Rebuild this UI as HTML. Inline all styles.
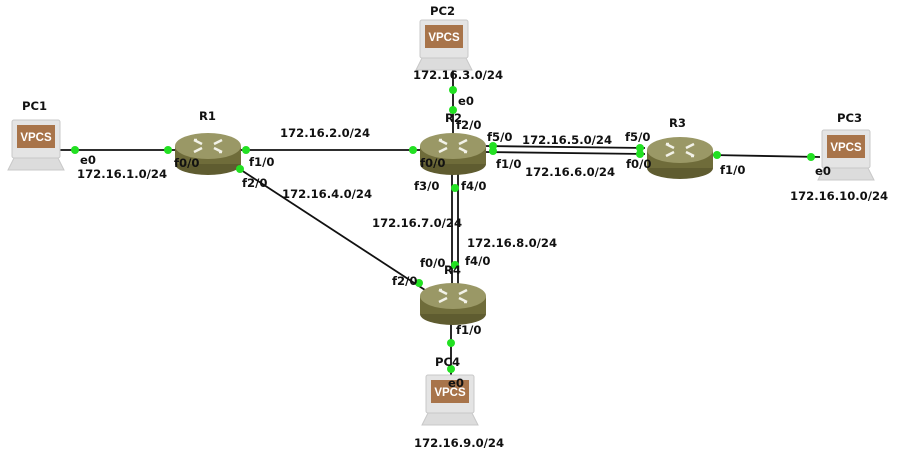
<!DOCTYPE html>
<html><head><meta charset="utf-8"><style>
html,body{margin:0;padding:0;background:#fff}
svg text{font-family:"DejaVu Sans","Liberation Sans",sans-serif;font-weight:bold;font-size:11.6px;fill:#111}
</style></head><body>
<svg width="898" height="454" viewBox="0 0 898 454" xmlns="http://www.w3.org/2000/svg">
<defs>
<g id="router">
 <ellipse cx="0" cy="11" rx="33" ry="11" fill="#5f5c30"/>
 <rect x="-33" y="-7" width="66" height="18" fill="#6f6c3a"/>
 <ellipse cx="0" cy="-7" rx="33" ry="13" fill="#9a9866"/>
 <path d="M-14,-13 l8,4 M-14,-13 l3,0 M14,-13 l-8,4 M-14,-1 l8,-4 M14,-1 l-8,-4 M14,-1 l-3,0" stroke="#f2f2e8" stroke-width="2.5" fill="none"/>
</g>
<g id="pc">
 <rect x="0" y="0" width="48" height="38" rx="2" fill="#e4e4e4" stroke="#c8c8c8"/>
 <rect x="5" y="5" width="38" height="23" fill="#a8744a"/>
 <text x="24" y="21" text-anchor="middle" style="fill:#fff;font-size:11.5px;font-family:'Liberation Sans',sans-serif">VPCS</text>
 <path d="M-4,50 L52,50 L46,38 L2,38 Z" fill="#dcdcdc" stroke="#c8c8c8"/>
</g>
</defs>
<g stroke="#111" stroke-width="1.8" fill="none">
 <line x1="60" y1="150" x2="180" y2="150"/>
 <line x1="240" y1="150" x2="420" y2="150"/>
 <line x1="238" y1="168" x2="425" y2="290"/>
 <line x1="453" y1="62" x2="453" y2="135"/>
 <line x1="485" y1="146" x2="645" y2="148"/>
 <line x1="485" y1="152" x2="645" y2="154"/>
 <line x1="712" y1="155" x2="820" y2="157"/>
 <line x1="452" y1="165" x2="452" y2="288"/>
 <line x1="458" y1="165" x2="458" y2="288"/>
 <line x1="451" y1="320" x2="451" y2="378"/>
</g>
<use href="#router" x="208" y="153"/>
<use href="#router" x="453" y="153"/>
<use href="#router" x="680" y="157"/>
<use href="#router" x="453" y="303"/>
<use href="#pc" x="12" y="120"/>
<use href="#pc" x="420" y="20"/>
<use href="#pc" x="822" y="130"/>
<use href="#pc" x="426" y="375"/>
<g fill="#22e022">
 <circle cx="75" cy="150" r="4"/><circle cx="168" cy="150" r="4"/><circle cx="246" cy="150" r="4"/><circle cx="240" cy="169" r="4"/>
 <circle cx="413" cy="150" r="4"/><circle cx="453" cy="90" r="4"/><circle cx="453" cy="110" r="4"/>
 <circle cx="493" cy="146" r="4"/><circle cx="493" cy="151" r="4"/><circle cx="640" cy="148" r="4"/><circle cx="640" cy="154" r="4"/>
 <circle cx="717" cy="155" r="4"/><circle cx="811" cy="157" r="4"/>
 <circle cx="455" cy="188" r="4"/><circle cx="455" cy="265" r="4"/><circle cx="419" cy="283" r="4"/>
 <circle cx="451" cy="343" r="4"/><circle cx="451" cy="369" r="4"/>
</g>
<text x="22" y="110">PC1</text><text x="199" y="120">R1</text><text x="430" y="15">PC2</text>
<text x="445" y="122">R2</text><text x="669" y="127">R3</text><text x="837" y="122">PC3</text>
<text x="444" y="274">R4</text><text x="435" y="366">PC4</text>
<text x="80" y="164">e0</text><text x="77" y="178">172.16.1.0/24</text>
<text x="174" y="167">f0/0</text><text x="249" y="166">f1/0</text><text x="242" y="187">f2/0</text>
<text x="280" y="137">172.16.2.0/24</text><text x="282" y="198">172.16.4.0/24</text>
<text x="413" y="79">172.16.3.0/24</text><text x="458" y="105">e0</text><text x="456" y="129">f2/0</text>
<text x="487" y="141">f5/0</text><text x="522" y="144">172.16.5.0/24</text>
<text x="496" y="168">f1/0</text><text x="525" y="176">172.16.6.0/24</text>
<text x="420" y="167">f0/0</text><text x="414" y="190">f3/0</text><text x="461" y="190">f4/0</text>
<text x="372" y="227">172.16.7.0/24</text><text x="467" y="247">172.16.8.0/24</text>
<text x="420" y="267">f0/0</text><text x="465" y="265">f4/0</text><text x="392" y="285">f2/0</text>
<text x="456" y="334">f1/0</text><text x="448" y="387">e0</text><text x="414" y="447">172.16.9.0/24</text>
<text x="625" y="141">f5/0</text><text x="626" y="168">f0/0</text><text x="720" y="174">f1/0</text>
<text x="815" y="175">e0</text><text x="790" y="200">172.16.10.0/24</text>
</svg>
</body></html>
